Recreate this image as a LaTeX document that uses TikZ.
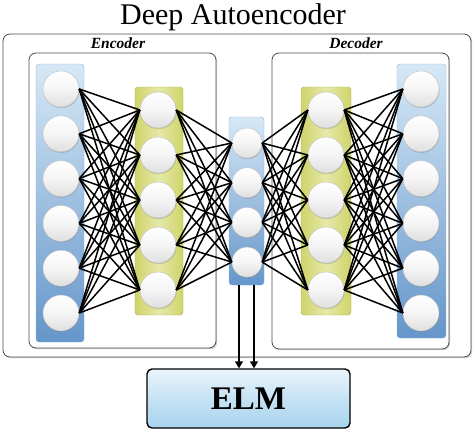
\documentclass[tikz,border=0pt]{standalone}
\usepackage{fontspec}
\setmainfont{Liberation Serif}
\usepackage{tikz}
\usetikzlibrary{arrows.meta, shadows}
\definecolor{bleuclair}{HTML}{D6E8F6}
\definecolor{bleufonce}{HTML}{6596CA}
\definecolor{jaune}{HTML}{CFD36A}
\definecolor{jauneclair}{HTML}{E6E9A8}
\definecolor{elmhaut}{HTML}{EAF5FB}
\definecolor{elmbas}{HTML}{A8D3EE}
\definecolor{bordgris}{HTML}{4A4A4A}
\tikzset{
  cadre/.style={rectangle, rounded corners=7pt, draw=bordgris, line width=0.8pt,
    fill=white, drop shadow={opacity=0.35, shadow xshift=1.2pt, shadow yshift=-1.2pt}},
  colbleue/.style={rectangle, rounded corners=3pt, draw=bleufonce!70,
    top color=bleuclair, bottom color=bleufonce},
  coljaune/.style={rectangle, rounded corners=3pt, draw=jaune!85!black,
    left color=jaune, right color=jaune, middle color=jauneclair},
  neurone/.style={circle, draw=gray!50, minimum size=36pt, inner sep=0pt,
    top color=white, bottom color=gray!25, middle color=gray!8,
    drop shadow={opacity=0.3, shadow xshift=0.6pt, shadow yshift=-1.2pt}},
  petitneurone/.style={neurone, minimum size=30pt},
  liaison/.style={line width=1.5pt, black},
  fleche/.style={-{Triangle[length=7pt, width=8pt]}, line width=1.4pt, black},
  etiquette/.style={font=\fontsize{15.5}{17}\selectfont\bfseries\itshape},
  sortie/.style={rectangle, rounded corners=5pt, draw=black, line width=1.4pt,
    top color=elmhaut, bottom color=elmbas, middle color=elmbas!55!elmhaut,
    minimum width=203pt, minimum height=59pt, font=\fontsize{33}{36}\selectfont\bfseries}
}
\begin{document}
\begin{tikzpicture}[x=1pt, y=-1pt]
  \useasboundingbox (0,0) rectangle (474,431);

  \node[font=\fontsize{30}{32}\selectfont, anchor=base] (titre) at (233,24) {Deep Autoencoder};

  % cadres
  \node[cadre, minimum width=468pt, minimum height=323pt] (global) at (237,195.5) {};
  \node[cadre, minimum width=187pt, minimum height=295pt] (encbox) at (122.5,200.5) {};
  \node[cadre, minimum width=177pt, minimum height=296pt] (decbox) at (360.5,201) {};
  \node[etiquette] (lblenc) at (118,43) {Encoder};
  \node[etiquette] (lbldec) at (356,43) {Decoder};

  % colonnes
  \node[colbleue, minimum width=48pt, minimum height=278pt] (colin) at (60,203) {};
  \node[coljaune, minimum width=48pt, minimum height=228pt] (colenc) at (159,201) {};
  \node[colbleue, minimum width=35pt, minimum height=168pt] (colcode) at (246.5,201) {};
  \node[coljaune, minimum width=50pt, minimum height=228pt] (coldec) at (326,201) {};
  \node[colbleue, minimum width=49pt, minimum height=274pt] (colout) at (421.5,201) {};

  % neurones
  \foreach \i in {1,...,6} {
    \node[neurone] (in\i) at (61,{89+44.8*(\i-1)}) {};
    \node[neurone] (out\i) at (421,{89+44.8*(\i-1)}) {};
  }
  \foreach \i in {1,...,5} {
    \node[neurone] (enc\i) at (158,{110+45*(\i-1)}) {};
    \node[neurone] (dec\i) at (326,{110+45*(\i-1)}) {};
  }
  \foreach \i in {1,...,4}
    \node[petitneurone] (code\i) at (247,{143+39.7*(\i-1)}) {};

  % liaisons
  \foreach \i in {1,...,6}
    \foreach \j in {1,...,5} {
      \draw[liaison] (in\i.east) -- (enc\j.west);
      \draw[liaison] (dec\j.east) -- (out\i.west);
    }
  \foreach \i in {1,...,5}
    \foreach \j in {1,...,4} {
      \draw[liaison] (enc\i.east) -- (code\j.west);
      \draw[liaison] (code\j.east) -- (dec\i.west);
    }

  \node[sortie] (elm) at (248.5,398.5) {ELM};

  \draw[fleche] ([xshift=-7.5pt]colcode.south) -- ([xshift=-7.5pt]colcode.south |- elm.north);
  \draw[fleche] ([xshift=7.5pt]colcode.south) -- ([xshift=7.5pt]colcode.south |- elm.north);
\end{tikzpicture}
\end{document}
